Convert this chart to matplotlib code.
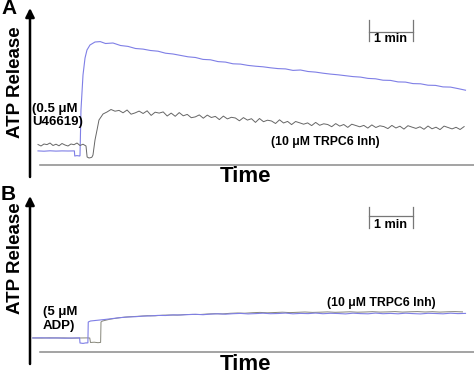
import numpy as np
import matplotlib
matplotlib.use("Agg")
import matplotlib.pyplot as plt
from matplotlib.lines import Line2D
from matplotlib.patches import FancyArrowPatch

plt.rcParams['font.family'] = ['Liberation Sans', 'DejaVu Sans']

# ---------------- data (time in s, signal in arbitrary units) ----------------
# Panel A, control (blue)
a_blue_pre_t = [0, 8, 16, 24, 32, 40, 48.5, 49, 52, 55.5, 56, 57.3, 60, 62.7, 65.3, 69.3, 76, 83]
a_blue_pre_v = [14.1, 13.8, 14.2, 13.9, 14.1, 14.0, 14.1, 9.0, 9.4, 9.0, 9.2, 55, 90, 107, 115, 120, 123, 123.4]
a_blue_decay = [121.5, 122.0, 119.5, 118.6, 116.5, 115.9, 114.5, 113.8, 111.8, 111.0,
                109.6, 108.2, 107.5, 105.6, 105.2, 103.4, 102.9, 101.2, 100.9, 99.6,
                98.8, 98.2, 97.2, 96.4, 96.1, 94.6, 95.0, 93.5, 92.9, 91.8,
                90.9, 90.2, 89.3, 88.4, 87.9, 86.6, 86.2, 84.8, 84.6, 83.1,
                82.9, 81.4, 81.2, 79.8, 79.6, 78.1, 77.9, 76.4, 74.8]
a_blue_decay_t0, a_blue_decay_dt = 90, 10

# Panel A, TRPC6 inhibitor (gray)
a_gray_pre_t = [0, 4, 8, 12, 16, 20, 24, 28, 32, 36, 40, 44, 48, 52, 56, 60, 64,
                65.5, 68, 71, 72, 73.3, 76, 78.7, 81.3, 84, 86.7, 89.3]
a_gray_pre_v = [20.5, 19.0, 21.0, 20.4, 22.0, 19.5, 20.8, 19.2, 21.5, 20.0, 19.0, 21.0, 20.3, 22.0, 19.5, 20.8, 19.0,
                8.0, 7.0, 7.5, 8.0, 10, 25, 35, 45, 48, 51, 52]
a_gray_plateau = [53.0, 55.5, 53.8, 54.6, 52.2, 55.0, 50.8, 52.1, 53.9, 51.5,
                  54.2, 49.6, 52.8, 51.9, 53.1, 49.0, 51.9, 48.7, 52.4, 49.2,
                  50.6, 47.3, 48.1, 50.1, 46.8, 49.9, 47.5, 48.6, 45.4, 48.9,
                  46.1, 47.7, 47.0, 44.2, 47.4, 44.9, 46.3, 42.6, 46.5, 43.3,
                  44.8, 44.0, 41.5, 45.2, 42.0, 43.6, 40.4, 43.5, 42.2, 40.8,
                  42.1, 39.4, 42.6, 39.7, 41.2, 40.5, 38.3, 41.4, 38.9, 40.5,
                  37.6, 40.8, 39.5, 38.2, 39.6, 36.9, 40.1, 37.5, 39.2, 38.4,
                  36.4, 39.6, 37.0, 38.8, 35.9, 39.3, 37.9, 36.6, 38.2, 35.7,
                  39.0, 36.2, 37.8, 35.4, 38.9, 37.5, 36.1, 37.7, 35.5, 38.4]
a_gray_plateau_t0, a_gray_plateau_dt = 92, 5.35

# Panel B, control (blue)
b_blue_pre_t = [-7, 5, 15, 25, 35, 45, 55.5, 56, 60, 64.5, 65, 66.5, 67]
b_blue_pre_v = [14.0, 14.2, 13.9, 14.1, 13.8, 14.0, 14.1, 9.0, 8.6, 9.2, 9.0, 9.2, 30.0]
b_blue_plateau = [31.0, 31.8, 32.6, 33.5, 34.4, 35.0, 35.3, 35.9, 36.1, 36.6,
                  36.5, 37.1, 37.0, 37.4, 37.7, 37.3, 37.9, 38.2, 37.8, 38.3,
                  38.6, 38.1, 38.4, 38.8, 38.3, 38.5, 38.9, 38.2, 38.6, 38.4,
                  38.9, 38.3, 38.7, 38.5, 38.1, 38.8, 38.4, 38.2, 38.9, 38.3,
                  38.6, 38.2, 38.8, 38.4, 38.1, 38.7, 38.5, 38.2, 38.8, 38.4, 38.6]
b_blue_plateau_t0, b_blue_plateau_dt = 70, 10

# Panel B, TRPC6 inhibitor (gray)
b_gray_pre_t = [-7, 5, 15, 25, 35, 45, 55, 65, 69, 70, 75, 80, 83.5, 84]
b_gray_pre_v = [14.1, 13.9, 14.2, 14.0, 14.1, 13.8, 14.0, 14.1, 14.0, 9.5, 9.8, 9.3, 9.6, 30.0]
b_gray_plateau = [31.0, 32.8, 34.0, 34.9, 35.4, 35.8, 36.3, 36.2, 36.8, 37.0,
                  36.9, 37.4, 37.6, 37.5, 38.0, 38.3, 38.1, 38.7, 39.0, 38.8,
                  39.3, 39.6, 39.2, 39.5, 39.8, 39.4, 39.7, 40.0, 39.6, 39.8,
                  40.1, 39.7, 39.9, 40.2, 39.8, 40.0, 40.3, 39.9, 40.1, 40.4,
                  39.9, 40.2, 40.4, 40.0, 40.3, 39.9, 40.2, 40.4, 40.1]
b_gray_plateau_t0, b_gray_plateau_dt = 86, 10

BLUE = '#7f7fe6'
GRAY = '#666666'
GRAY_B = '#86867a'

W, H = 474, 373
fig = plt.figure(figsize=(W / 100, H / 100), dpi=100)


def fx(x):
    return x / W


def fy(y):
    return 1 - y / H


def trace(pre_t, pre_v, plat, t0, dt):
    t = list(pre_t) + list(t0 + dt * np.arange(len(plat)))
    v = list(pre_v) + list(plat)
    return t, v


SEC_PER_PX = 4 / 3
xl = ((30 - 38) * SEC_PER_PX, (474 - 38) * SEC_PER_PX)

# ---- Panel A axes ----
axA = fig.add_axes([fx(30), fy(175), fx(444), 170 / H])
axA.set_xlim(*xl)
axA.set_ylim(-10, 160)
axA.axis('off')
t, v = trace(a_blue_pre_t, a_blue_pre_v, a_blue_decay, a_blue_decay_t0, a_blue_decay_dt)
axA.plot(t, v, color=BLUE, lw=0.8)
t, v = trace(a_gray_pre_t, a_gray_pre_v, a_gray_plateau, a_gray_plateau_t0, a_gray_plateau_dt)
axA.plot(t, v, color=GRAY, lw=0.7)

# ---- Panel B axes ----
axB = fig.add_axes([fx(30), fy(370), fx(444), 180 / H])
axB.set_xlim(*xl)
axB.set_ylim(-18, 162)
axB.axis('off')
t, v = trace(b_gray_pre_t, b_gray_pre_v, b_gray_plateau, b_gray_plateau_t0, b_gray_plateau_dt)
axB.plot(t, v, color=GRAY_B, lw=0.7)
t, v = trace(b_blue_pre_t, b_blue_pre_v, b_blue_plateau, b_blue_plateau_t0, b_blue_plateau_dt)
axB.plot(t, v, color=BLUE, lw=0.8)


def hline(x0, x1, y, color, lw):
    fig.add_artist(Line2D([fx(x0), fx(x1)], [fy(y), fy(y)], color=color, lw=lw,
                          transform=fig.transFigure))


def vline(x, y0, y1, color, lw):
    fig.add_artist(Line2D([fx(x), fx(x)], [fy(y0), fy(y1)], color=color, lw=lw,
                          transform=fig.transFigure))


def arrow(x, y0, y1):
    fig.add_artist(FancyArrowPatch((fx(x), fy(y0)), (fx(x), fy(y1)),
                                   transform=fig.transFigure, arrowstyle='-|>',
                                   mutation_scale=13, lw=1.8, color='black',
                                   shrinkA=0, shrinkB=0))


for (base_y, arr_y0, arr_y1, sb_top, sb_bot, sb_mid, sb_txt, ylab_y,
     time_y) in [(165, 177, 8, 20, 41, 32, 39, 82, 177),
                 (352, 364, 196, 207, 228, 216, 225.5, 258, 364)]:
    hline(40, 474, base_y, '#8a8a8a', 1.1)
    arrow(30, arr_y0, arr_y1)
    vline(368.5, sb_top, sb_bot, '#777777', 0.9)
    vline(413, sb_top, sb_bot, '#777777', 0.9)
    hline(368.5, 413, sb_mid, '#777777', 0.9)
    fig.text(fx(390), fy(sb_txt), '1 min', ha='center', va='center',
             fontsize=9.2, fontweight='bold')
    fig.text(fx(15), fy(ylab_y), 'ATP Release', rotation=90, ha='center',
             va='center', fontsize=13.5, fontweight='bold')
    fig.text(fx(245), fy(time_y), 'Time', ha='center', va='center',
             fontsize=16, fontweight='bold')

fig.text(fx(9), fy(8), 'A', ha='center', va='center', fontsize=15, fontweight='bold')
fig.text(fx(8), fy(194), 'B', ha='center', va='center', fontsize=15, fontweight='bold')

fig.text(fx(32), fy(115.5), '(0.5 \u03bcM\nU46619)', ha='left', va='center',
         fontsize=9.5, fontweight='bold', linespacing=1.12)
fig.text(fx(43), fy(319), '(5 \u03bcM\nADP)', ha='left', va='center',
         fontsize=9.5, fontweight='bold', linespacing=1.12)
fig.text(fx(325), fy(142), '(10 \u03bcM TRPC6 Inh)', ha='center', va='center',
         fontsize=8.8, fontweight='bold')
fig.text(fx(381), fy(303), '(10 \u03bcM TRPC6 Inh)', ha='center', va='center',
         fontsize=8.8, fontweight='bold')

fig.savefig('out.png', dpi=100)
